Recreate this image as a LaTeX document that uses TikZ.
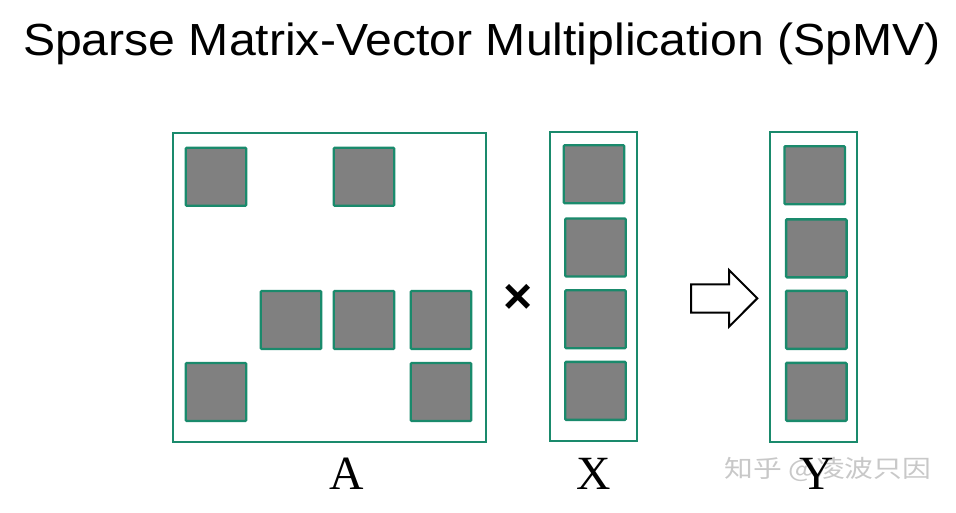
\documentclass[tikz,border=0pt]{standalone}
\usepackage{fontspec}
\setmainfont{Liberation Serif}
\newfontfamily\titlefont{Liberation Sans}
\newfontfamily\cjkfont{Noto Sans CJK SC}
\definecolor{boxgreen}{RGB}{26,138,108}
\definecolor{cellgray}{RGB}{128,128,128}
\definecolor{wmgray}{RGB}{200,200,200}
\tikzset{
  cell/.style={draw=boxgreen, fill=cellgray, line width=2.4pt, rounded corners=1pt,
    minimum width=60.5pt, minimum height=58pt, inner sep=0pt},
  frame/.style={draw=boxgreen, line width=2.2pt, inner sep=0pt},
  lbl/.style={font=\fontsize{47.7}{50}\selectfont, inner sep=0pt, anchor=base}
}
\begin{document}
\begin{tikzpicture}[x=1pt,y=-1pt]
\useasboundingbox (0,0) rectangle (956,512);
\node[font=\titlefont\fontsize{45}{48}\selectfont, inner sep=0pt, anchor=base, xscale=1.07] (title) at (482,55.7) {Sparse Matrix-Vector Multiplication (SpMV)};
% Matrix A
\node[frame, minimum width=312.7pt, minimum height=308.4pt] (A) at (329.7,287.5) {};
\node[cell] (a11) at (216,176.7) {};
\node[cell] (a13) at (364,176.7) {};
\node[cell] (a32) at (291,320) {};
\node[cell] (a33) at (364,320) {};
\node[cell] (a34) at (441,320) {};
\node[cell] (a41) at (216,392) {};
\node[cell] (a44) at (441,392) {};
% Vector X
\node[frame, minimum width=86.7pt, minimum height=309.3pt] (X) at (593.3,286.3) {};
\node[cell] (x1) at (594,174.2) {};
\node[cell] (x2) at (595.5,247.5) {};
\node[cell] (x3) at (595.5,319.2) {};
\node[cell] (x4) at (595.5,390.9) {};
% Vector Y
\node[frame, minimum width=87.3pt, minimum height=309.4pt] (Y) at (813.7,287) {};
\node[cell] (y1) at (814.7,175.2) {};
\node[cell] (y2) at (816.3,248.3) {};
\node[cell] (y3) at (816.3,319.8) {};
\node[cell] (y4) at (816.3,391.8) {};
% times sign
\node[font=\titlefont\bfseries\fontsize{50}{52}\selectfont, inner sep=0pt] (times) at (518,298.5) {×};
% hollow arrow
\draw[line width=2pt, line join=miter] (691,284.3) -- (729,284.3) -- (729,270) -- (757.3,298.3) -- (729,326.7) -- (729,312.7) -- (691,312.7) -- cycle;
% watermark
\node[font=\cjkfont\fontsize{24}{26}\selectfont, text=wmgray, inner sep=0pt, xscale=1.2] (wm) at (828,469) {知乎 @凌波只因};
% labels
\node[lbl] (la) at (346.7,489.3) {A};
\node[lbl] (lx) at (594,489.3) {X};
\node[lbl] (ly) at (816.5,489.3) {Y};
\end{tikzpicture}
\end{document}
